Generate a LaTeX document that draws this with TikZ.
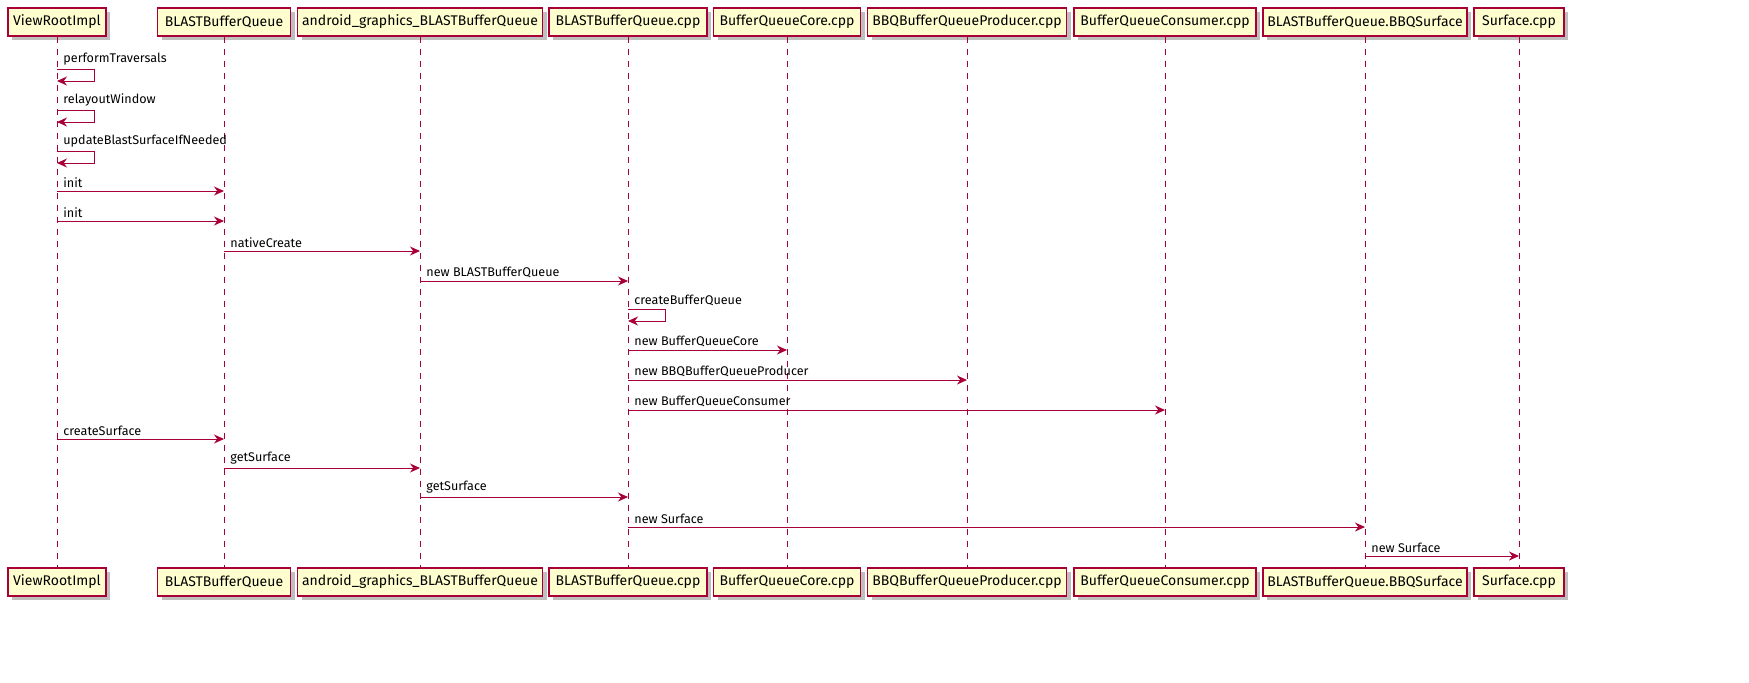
\documentclass[tikz,border=0pt]{standalone}
\usepackage{fontspec}
\setmainfont{Fira Sans}
\usetikzlibrary{arrows.meta}
\definecolor{umlred}{HTML}{A80036}
\definecolor{umlbox}{HTML}{FEFECE}
\tikzset{
  part/.style={draw=umlred, fill=umlbox, line width=0.6pt, minimum height=14pt,
    inner sep=0pt, font=\fontsize{7}{8}\selectfont},
  shade/.style={fill=black!25, draw=none, minimum height=14pt, inner sep=0pt},
  life/.style={umlred, dashed, line width=0.4pt},
  msg/.style={umlred, line width=0.5pt, -{Stealth[length=5pt,width=4.5pt]}},
  lbl/.style={black, font=\fontsize{6.3}{7}\selectfont, inner sep=0pt, anchor=south west}
}
\begin{document}
\begin{tikzpicture}[x=0.5pt, y=-0.5pt]
  \useasboundingbox (0,0) rectangle (1749,682);
  % participants, top and bottom
  \foreach \n/\x/\w/\t in {vri/57/98/ViewRootImpl, bbq/224/133/BLASTBufferQueue,
      agb/420/245/android\_graphics\_BLASTBufferQueue, bbqc/628/158/BLASTBufferQueue.cpp,
      core/787/147/BufferQueueCore.cpp, prod/967/199/BBQBufferQueueProducer.cpp,
      cons/1165/182/BufferQueueConsumer.cpp, bsurf/1365/204/BLASTBufferQueue.BBQSurface,
      surf/1519/90/Surface.cpp} {
    \node[shade, minimum width=\w*0.5pt] at (\x+4,26) {};
    \node[shade, minimum width=\w*0.5pt] at (\x+4,586) {};
    \node[part, minimum width=\w*0.5pt] (\n-t) at (\x,22) {\t};
    \node[part, minimum width=\w*0.5pt] (\n-b) at (\x,582) {\t};
    \draw[life] (\n-t) -- (\n-b);
  }
  % self messages
  \foreach \i/\n/\y/\t in {1/vri/69/performTraversals, 2/vri/110/relayoutWindow,
      3/vri/151/updateBlastSurfaceIfNeeded, 4/bbqc/309/createBufferQueue} {
    \coordinate (s\i) at (\n-t.south |- 0,\y);
    \draw[msg] (s\i) -- ++(37,0) -- ++(0,12) -- ++(-37,0);
    \node[lbl] at ([xshift=3pt,yshift=1.5pt]s\i) {\t};
  }
  % messages between participants
  \foreach \i/\a/\b/\y/\t in {5/vri/bbq/191/init, 6/vri/bbq/221/init,
      7/bbq/agb/251/nativeCreate, 8/agb/bbqc/281/new BLASTBufferQueue,
      9/bbqc/core/350/new BufferQueueCore, 10/bbqc/prod/380/new BBQBufferQueueProducer,
      11/bbqc/cons/410/new BufferQueueConsumer, 12/vri/bbq/439/createSurface,
      13/bbq/agb/468/getSurface, 14/agb/bbqc/497/getSurface,
      15/bbqc/bsurf/527/new Surface, 16/bsurf/surf/556/new Surface} {
    \coordinate (a\i) at (\a-t.south |- 0,\y);
    \coordinate (b\i) at (\b-t.south |- 0,\y);
    \draw[msg] (a\i) -- (b\i);
    \node[lbl] at ([xshift=3pt,yshift=1.5pt]a\i) {\t};
  }
\end{tikzpicture}
\end{document}
